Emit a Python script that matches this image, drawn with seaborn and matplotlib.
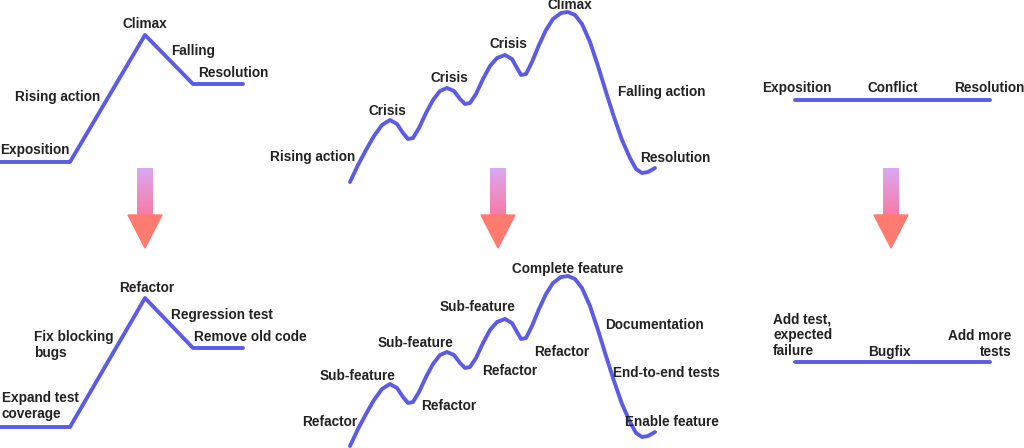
import numpy as np
import pandas as pd
import matplotlib
matplotlib.use("Agg")
import matplotlib.pyplot as plt
import seaborn as sns
from matplotlib.patches import Polygon

sns.set_style("white")
plt.rcParams['font.family'] = ['Liberation Sans', 'DejaVu Sans']

LINE = "#5b5be8"
TXT = "#222222"

# story arcs, in pixel coordinates of the 1024x448 canvas
freytag_x = [0, 70, 145, 193, 243]
freytag_top_y = [162, 162, 35, 84, 84]
freytag_bot_y = [427, 427, 298, 348, 348]

wave_x = [350, 358, 366, 374, 382, 390, 397, 403, 408, 413, 419, 426, 433, 440, 447, 454,
          460, 465, 470, 476, 483, 490, 497, 505, 512, 517, 521, 526, 532, 539, 546, 553,
          561, 568, 575, 582, 590, 598, 606, 614, 622, 630, 636, 642, 648, 655]
wave_top_y = [182, 165, 150, 136, 125, 120, 124, 133, 139, 138, 128, 113, 100, 91, 88, 91,
              99, 104, 103, 94, 79, 66, 58, 55, 59, 68, 75, 74, 62, 45, 30, 19,
              13, 12, 15, 24, 42, 66, 92, 117, 140, 158, 169, 173, 172, 168]
wave_shift = 264

flat_x = [795, 990]
flat_top_y = [100, 100]
flat_bot_y = [362, 362]

arrow_x = [145, 498, 891]

# text, x, y, horizontal alignment
labels = [
    ("Climax", 145, 24, "center"), ("Falling", 193, 51, "center"),
    ("Rising action", 58, 97, "center"), ("Resolution", 233, 73, "center"),
    ("Exposition", 35, 150, "center"),
    ("Refactor", 147, 288, "center"), ("Regression test", 222, 315, "center"),
    ("Fix blocking\nbugs", 34, 345, "left"), ("Remove old code", 250, 337, "center"),
    ("Expand test\ncoverage", 2, 406, "left"),
    ("Rising action", 313, 157, "center"), ("Crisis", 387, 111, "center"),
    ("Crisis", 449, 78, "center"), ("Crisis", 508, 44, "center"),
    ("Climax", 570, 5, "center"), ("Falling action", 662, 92, "center"),
    ("Resolution", 675, 158, "center"),
    ("Complete feature", 568, 269, "center"), ("Sub-feature", 477, 307, "center"),
    ("Sub-feature", 416, 343, "center"), ("Sub-feature", 358, 376, "center"),
    ("Refactor", 330, 422, "center"), ("Refactor", 449, 406, "center"),
    ("Refactor", 510, 371, "center"), ("Refactor", 562, 352, "center"),
    ("Documentation", 655, 325, "center"), ("End-to-end tests", 666, 373, "center"),
    ("Enable feature", 672, 422, "center"),
    ("Exposition", 797, 88, "center"), ("Conflict", 893, 88, "center"),
    ("Resolution", 989, 88, "center"),
    ("Add test,\nexpected\nfailure", 773, 335, "left"), ("Bugfix", 889, 352, "center"),
    ("Add more\ntests", 1011, 344, "right"),
]

fig = plt.figure(figsize=(10.24, 4.48), dpi=100)
ax = fig.add_axes([0, 0, 1, 1])

series = [
    (freytag_x, freytag_top_y), (freytag_x, freytag_bot_y),
    (wave_x, wave_top_y), (wave_x, [y + wave_shift for y in wave_top_y]),
    (flat_x, flat_top_y), (flat_x, flat_bot_y),
]
for xs, ys in series:
    df = pd.DataFrame({"x": xs, "y": ys})
    sns.lineplot(data=df, x="x", y="y", ax=ax, sort=False, estimator=None,
                 color=LINE, linewidth=2.8, solid_joinstyle="round")

# gradient arrows
grad = np.linspace(0, 1, 100).reshape(-1, 1)
cmap = matplotlib.colors.LinearSegmentedColormap.from_list("g", ["#dba8f2", "#f77aa6"])
for cx in arrow_x:
    ax.imshow(grad, extent=[cx - 8, cx + 8, 215, 168], cmap=cmap, aspect="auto", zorder=2)
    ax.add_patch(Polygon([[cx - 17, 215], [cx + 17, 215], [cx, 248]],
                         closed=True, color="#ff7b70", zorder=2))

for t, x, y, ha in labels:
    ax.text(x, y, t, ha=ha, va="center", fontsize=9.8, fontweight="bold",
            color=TXT, linespacing=1.15, multialignment=ha if ha != "center" else "center")

ax.set_xlim(0, 1024)
ax.set_ylim(448, 0)
ax.axis("off")
fig.savefig("out.png", dpi=100)
